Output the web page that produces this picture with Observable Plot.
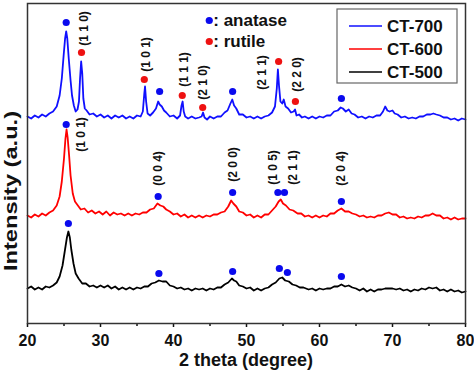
<!DOCTYPE html>
<html><head><meta charset="utf-8">
<script src="https://cdn.jsdelivr.net/npm/d3@7"></script>
<script src="https://cdn.jsdelivr.net/npm/@observablehq/plot@0.6"></script>
<style>
body{margin:0;background:#fff;}
#chart{position:relative;width:474px;height:370px;}
</style>
</head><body><div id="chart"></div>
<script>
// XRD patterns: [2theta (deg), intensity (a.u., stacked offsets)]
const ct700 = [
[20.0,207],[20.5,205],[21.0,208],[21.5,206],[22.0,209],[22.5,207],[23.0,210],[23.5,212],[24.0,217],[24.4,228],[24.7,245],[24.95,268],[25.15,285],[25.3,292],[25.45,285],[25.65,265],[25.9,243],[26.1,228],[26.35,218],[26.6,212],[26.85,214],[27.05,222],[27.2,245],[27.35,262],[27.5,250],[27.65,225],[27.85,215],[28.1,213],[28.5,209],[29.0,210],[29.5,207],[30.0,209],[30.5,206],[31.0,208],[31.5,205],[32.0,208],[32.5,206],[33.0,208],[33.5,205],[34.0,207],[34.5,205],[35.0,208],[35.5,207],[35.8,212],[36.0,230],[36.1,237],[36.25,222],[36.45,210],[36.8,208],[37.2,211],[37.6,215],[37.9,222],[38.1,219],[38.4,217],[38.7,213],[39.0,211],[39.5,207],[40.0,208],[40.5,205],[40.9,208],[41.1,218],[41.25,222],[41.4,212],[41.6,207],[42.0,205],[42.5,207],[43.0,205],[43.5,206],[43.85,207],[44.05,211],[44.25,206],[44.6,204],[45.0,207],[45.5,205],[46.0,207],[46.5,207],[47.0,211],[47.4,213],[47.8,220],[48.05,224],[48.3,218],[48.6,215],[49.0,209],[49.5,209],[50.0,206],[50.5,207],[51.0,205],[51.5,207],[52.0,205],[52.5,207],[53.0,208],[53.5,211],[53.9,217],[54.15,235],[54.3,254],[54.45,238],[54.65,222],[54.9,220],[55.1,224],[55.35,217],[55.7,215],[56.1,211],[56.45,212],[56.65,214],[56.85,208],[57.2,209],[57.6,206],[58.0,207],[58.5,205],[59.0,207],[59.5,205],[60.0,207],[60.5,206],[61.0,208],[61.5,208],[62.0,212],[62.5,213],[62.9,216],[63.2,215],[63.6,212],[64.0,214],[64.4,210],[64.8,209],[65.3,206],[65.8,207],[66.3,205],[66.8,207],[67.3,206],[67.8,208],[68.3,208],[68.7,212],[69.0,217],[69.3,213],[69.6,212],[70.0,213],[70.3,210],[70.7,209],[71.2,206],[71.7,207],[72.2,205],[72.7,206],[73.2,205],[73.7,207],[74.2,207],[74.7,209],[75.2,209],[75.6,210],[76.0,209],[76.5,208],[77.0,206],[77.5,206],[78.0,204],[78.5,205],[79.0,203],[79.5,205],[80.0,204]
];
const ct600 = [
[20.0,108],[20.5,106],[21.0,109],[21.5,107],[22.0,110],[22.5,108],[23.0,111],[23.5,113],[24.0,118],[24.4,127],[24.7,142],[25.0,165],[25.2,185],[25.35,194],[25.5,186],[25.7,168],[25.9,148],[26.2,130],[26.5,122],[26.9,118],[27.3,114],[27.8,115],[28.3,111],[28.8,113],[29.3,110],[29.8,112],[30.3,109],[30.8,112],[31.3,108],[31.8,111],[32.3,109],[32.8,110],[33.3,108],[33.8,110],[34.3,108],[34.8,110],[35.3,109],[35.8,111],[36.3,111],[36.8,114],[37.3,115],[37.8,120],[38.2,118],[38.6,117],[39.0,114],[39.5,112],[40.0,109],[40.5,110],[41.0,107],[41.5,109],[42.0,106],[42.5,108],[43.0,106],[43.5,108],[44.0,106],[44.5,108],[45.0,107],[45.5,109],[46.0,109],[46.5,111],[47.0,112],[47.5,117],[47.9,123],[48.2,120],[48.6,117],[49.0,112],[49.5,111],[50.0,108],[50.5,109],[51.0,106],[51.5,108],[52.0,106],[52.5,109],[53.0,109],[53.5,113],[54.0,117],[54.4,122],[54.7,124],[55.0,120],[55.4,118],[55.9,114],[56.4,113],[57.0,110],[57.5,110],[58.0,107],[58.5,108],[59.0,106],[59.5,108],[60.0,106],[60.5,108],[61.0,107],[61.5,110],[62.0,110],[62.5,113],[63.0,115],[63.5,112],[64.0,112],[64.5,110],[65.0,109],[65.5,107],[66.0,108],[66.5,106],[67.0,107],[67.5,106],[68.0,108],[68.5,108],[69.0,110],[69.5,111],[70.0,109],[70.5,109],[71.0,106],[71.5,107],[72.0,105],[72.5,106],[73.0,105],[73.5,107],[74.0,106],[74.5,108],[75.0,108],[75.5,110],[76.0,108],[76.5,108],[77.0,105],[77.5,106],[78.0,104],[78.5,106],[79.0,104],[79.5,105],[80.0,105]
];
const ct500 = [
[20.0,35],[20.5,37],[21.0,34],[21.5,36],[22.0,34],[22.5,37],[23.0,36],[23.5,38],[24.0,41],[24.4,47],[24.8,58],[25.1,72],[25.4,86],[25.6,92],[25.8,86],[26.0,74],[26.3,60],[26.6,50],[27.0,45],[27.5,40],[28.0,40],[28.5,37],[29.0,38],[29.5,36],[30.0,38],[30.5,36],[31.0,38],[31.5,35],[32.0,37],[32.5,34],[33.0,36],[33.5,34],[34.0,36],[34.5,34],[35.0,36],[35.5,35],[36.0,37],[36.5,37],[37.0,40],[37.5,41],[38.0,43],[38.5,42],[39.0,42],[39.5,38],[40.0,37],[40.5,35],[41.0,36],[41.5,34],[42.0,35],[42.5,33],[43.0,35],[43.5,34],[44.0,35],[44.5,33],[45.0,35],[45.5,34],[46.0,36],[46.5,36],[47.0,39],[47.5,41],[48.0,45],[48.3,43],[48.6,42],[49.0,38],[49.5,37],[50.0,35],[50.5,36],[51.0,33],[51.5,35],[52.0,33],[52.5,35],[53.0,36],[53.5,39],[54.0,41],[54.5,45],[54.9,46],[55.3,43],[55.8,42],[56.3,39],[56.8,38],[57.3,36],[57.8,36],[58.5,34],[59.0,35],[59.5,33],[60.0,35],[60.5,34],[61.0,35],[61.5,35],[62.0,37],[62.5,37],[63.0,39],[63.5,37],[64.0,38],[64.5,36],[65.0,35],[65.5,33],[66.0,35],[66.5,32],[67.0,34],[67.5,32],[68.0,34],[68.5,34],[69.0,35],[69.5,35],[70.0,35],[70.5,34],[71.0,35],[71.5,33],[72.0,34],[72.5,32],[73.0,34],[73.5,33],[74.0,35],[74.5,34],[75.0,36],[75.5,35],[76.0,36],[76.5,33],[77.0,34],[77.5,32],[78.0,34],[78.5,32],[79.0,33],[79.5,31],[80.0,32]
];
// phase markers: [2theta, intensity]
const anataseDots = [
[25.3,301],[38.1,232],[48.1,232],[63.0,225],
[25.3,199],[37.9,127],[48.1,131],[54.3,131],[55.2,131],[63.0,122],
[25.6,100],[38.0,50],[48.1,52],[54.5,55],[55.6,51],[63.0,47]
];
const rutileDots = [[27.4,271],[36.0,244],[41.2,228],[44.0,216],[54.4,262],[56.7,222]];
// Miller index labels: [2theta, intensity, text]
const millerLabels = [
[27.7,295,"(1 1 0)"],[36.2,269,"(1 0 1)"],[41.4,254,"(1 1 1)"],[44.1,241,"(2 1 0)"],[52.2,251,"(2 1 1)"],[57.0,249,"(2 2 0)"],
[27.4,189,"(1 0 1)"],[37.9,155,"(0 0 4)"],[48.2,159,"(2 0 0)"],[53.6,156,"(1 0 5)"],[56.4,156,"(2 1 1)"],[63.0,155,"(2 0 4)"]
];
// phase key: [2theta, intensity, label, colour]
const phaseKey = [[44.9,303,": anatase","#0a0aee"],[44.9,282,": rutile","#ee1111"]];
const seriesNames = ["CT-700","CT-600","CT-500"];
const seriesColors = ["#1010ff","#ff0000","#000000"];
const xTicks = [20,30,40,50,60,70,80];
const xMinorTicks = [25,35,45,55,65,75];

const lineData = [];
[ct700, ct600, ct500].forEach((s, i) => s.forEach(([t, v]) => lineData.push({t, v, name: seriesNames[i]})));

const font = "Liberation Sans, Arial, Helvetica, sans-serif";
const plot = Plot.plot({
  width: 474, height: 370,
  marginLeft: 27, marginRight: 9, marginTop: 3, marginBottom: 47,
  style: {fontFamily: font, background: "#fff", color: "#111"},
  x: {domain: [20, 80]},
  y: {domain: [0, 320]},
  color: {domain: seriesNames, range: seriesColors},
  marks: [
    Plot.line(lineData, {x: "t", y: "v", z: "name", stroke: "name", strokeWidth: 1.8}),
    Plot.dot(anataseDots, {x: d => d[0], y: d => d[1], r: 3.6, fill: "#0a0aee"}),
    Plot.dot(rutileDots, {x: d => d[0], y: d => d[1], r: 3.6, fill: "#ee1111"}),
    Plot.text(millerLabels, {x: d => d[0], y: d => d[1], text: d => d[2], rotate: -90, textAnchor: "middle", fontSize: 12, fontWeight: "bold", fill: "#111"}),
    Plot.dot(phaseKey, {x: d => d[0], y: d => d[1], r: 3.6, fill: d => d[3]}),
    Plot.text(phaseKey, {x: d => d[0], y: d => d[1], text: d => d[2], textAnchor: "start", dx: 4, fontSize: 17, fontWeight: "bold", fill: "#111"}),
    Plot.axisX({ticks: xTicks, tickSize: 4, tickPadding: 7, fontSize: 16, fontWeight: "bold", label: null, strokeWidth: 1.5}),
    Plot.axisX({ticks: xMinorTicks, tickSize: 3, text: null, label: null, strokeWidth: 1.5}),
    Plot.axisY({ticks: [], label: null}),
    Plot.frame({stroke: "#333", strokeWidth: 1.5})
  ]
});
document.getElementById("chart").appendChild(plot);

const svg = d3.select(plot);
// axis titles
svg.append("text").attr("x", 246).attr("y", 366).attr("text-anchor", "middle")
  .attr("font-family", font).attr("font-size", 18).attr("font-weight", "bold").attr("fill", "#111")
  .text("2 theta (degree)");
svg.append("text").attr("transform", "translate(17,191) rotate(-90)").attr("text-anchor", "middle")
  .attr("font-family", font).attr("font-size", 18).attr("font-weight", "bold").attr("fill", "#111")
  .attr("textLength", 160).attr("lengthAdjust", "spacingAndGlyphs")
  .text("Intensity (a.u.)");
// legend
const lg = svg.append("g");
lg.append("rect").attr("x", 337).attr("y", 9).attr("width", 120).attr("height", 74)
  .attr("fill", "#fff").attr("stroke", "#666").attr("stroke-width", 1.2);
seriesNames.forEach((n, i) => {
  const y = 26 + i * 23;
  lg.append("line").attr("x1", 349).attr("x2", 382).attr("y1", y).attr("y2", y)
    .attr("stroke", seriesColors[i]).attr("stroke-width", 1.3);
  lg.append("text").attr("x", 387).attr("y", y + 6).attr("text-anchor", "start").attr("font-family", font)
    .attr("font-size", 17).attr("font-weight", "bold").attr("fill", "#111").text(n);
});
</script>
</body></html>
